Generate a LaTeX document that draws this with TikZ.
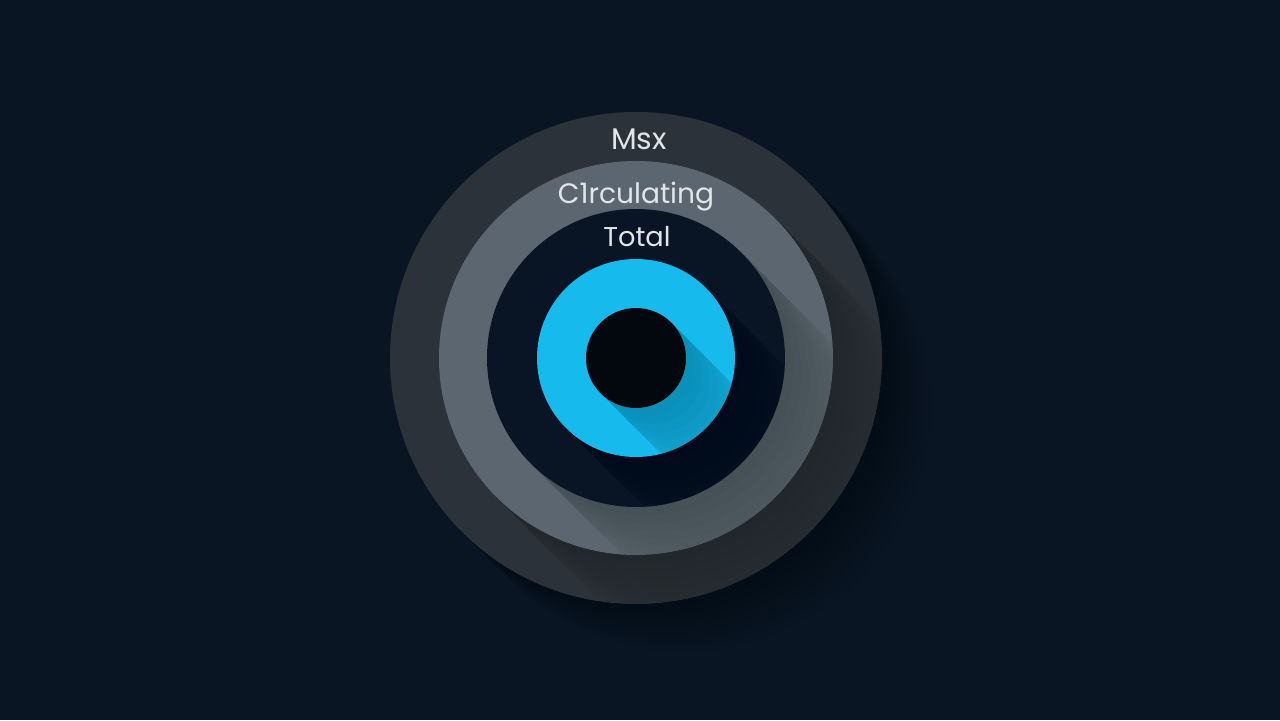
\documentclass[tikz,border=0pt]{standalone}
\usepackage{fontspec}
\setmainfont{Poppins}
\usetikzlibrary{calc}
\definecolor{bgnavy}{RGB}{10,21,36}
\definecolor{ringouter}{RGB}{44,50,58}
\definecolor{ringmid}{RGB}{92,102,113}
\definecolor{ringnavy}{RGB}{9,21,37}
\definecolor{ringcyan}{RGB}{22,186,236}
\definecolor{ringcore}{RGB}{3,8,15}
\definecolor{labelgray}{RGB}{225,229,233}
\tikzstyle{longshade}=[fill=black, fill opacity=0.02]
\tikzstyle{ringlabel}=[text=labelgray, inner sep=0pt, anchor=center]

\begin{document}
\begin{tikzpicture}[x=0.02cm,y=0.02cm]
\fill[bgnavy] (-636,-362) rectangle (644,358);
\coordinate (c) at (0,0);
% outer disk and its soft shadow on the background
\foreach \L in {6,12,...,48}
 \fill[longshade, fill opacity=0.035] (45:246) -- ++(\L,-\L) arc[start angle=45, end angle=-135, radius=246] -- (-135:246) -- cycle;
\fill[ringouter] (c) circle (246);
% inner disks, each throwing a soft long shadow onto the one below
\foreach \R/\r/\col in {246/197/ringmid, 197/149/ringnavy, 149/99/ringcyan, 99/50/ringcore} {
 \begin{scope}
  \clip (c) circle (\R);
  \foreach \L in {8,16,...,88}
   \fill[longshade] (45:\r) -- ++(\L,-\L) arc[start angle=45, end angle=-135, radius=\r] -- (-135:\r) -- cycle;
 \end{scope}
 \fill[\col] (c) circle (\r);
}
\node[ringlabel, font=\fontsize{17}{20}\selectfont] (msx) at (3,219) {Msx};
\node[ringlabel, font=\fontsize{16}{19}\selectfont] (circ) at (0,161) {C1rculating};
\node[ringlabel, font=\fontsize{15.5}{18}\selectfont] (total) at (1,121) {Total};
\end{tikzpicture}
\end{document}
